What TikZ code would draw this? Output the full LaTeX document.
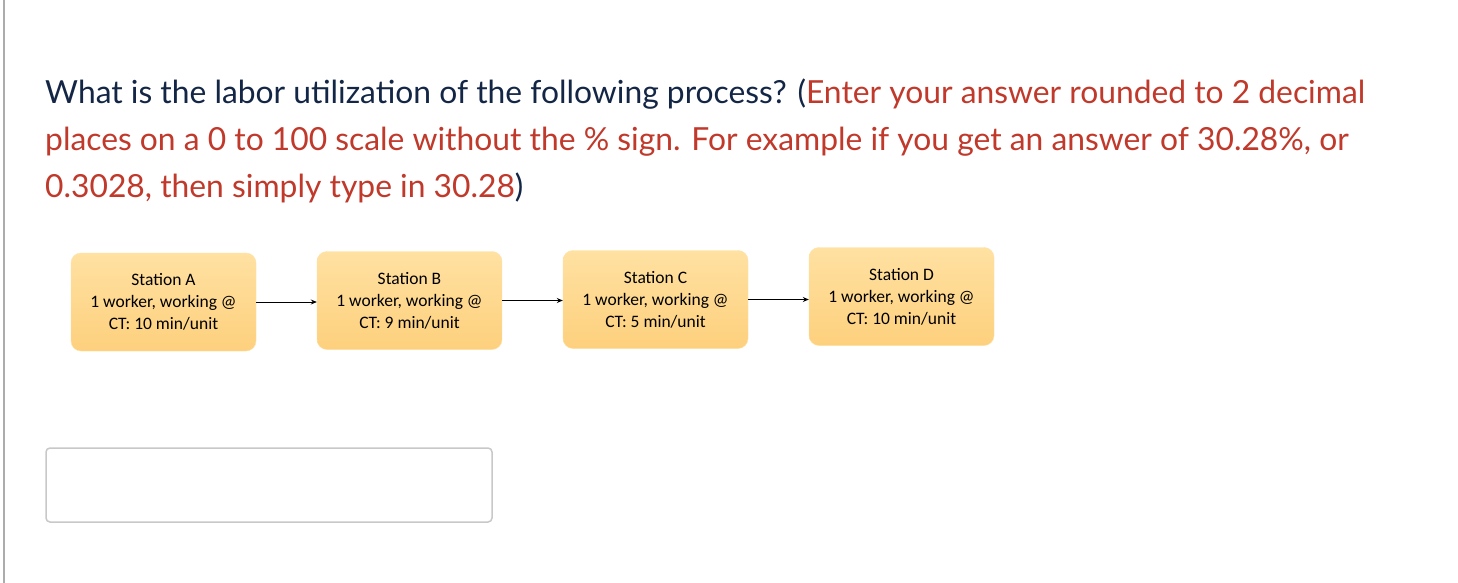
\documentclass[tikz,border=0pt]{standalone}
\usepackage{fontspec}
\setmainfont{Lato}
\newfontfamily\boxfont{Carlito}
\usetikzlibrary{positioning,arrows.meta}
\definecolor{qnavy}{RGB}{20,38,70}
\definecolor{qred}{RGB}{192,57,43}
\definecolor{boxtop}{RGB}{255,225,162}
\definecolor{boxbot}{RGB}{253,208,125}
\definecolor{fieldgray}{RGB}{200,200,200}
\tikzset{
	qline/.style={anchor=base west,inner sep=0pt,font=\fontsize{31.8}{38}\selectfont,text=qnavy},
	station/.style={rounded corners=10pt,top color=boxtop,bottom color=boxbot,draw=boxtop,
		minimum width=185pt,minimum height=98pt,inner sep=0pt,align=center,
		font=\boxfont\fontsize{17.5}{22}\selectfont},
	flow/.style={-{Stealth[length=6pt,width=5pt]},line width=0.9pt,black},
}
\begin{document}
\begin{tikzpicture}[x=1pt,y=-1pt]
	\useasboundingbox (0,0) rectangle (1458,583);
	\fill[white] (0,0) rectangle (1458,583);
	\draw[gray!65,line width=2pt] (4,0) -- (4,583);
	\node[qline] (lineA) at (45,103) {What is the labor utilization of the following process? (\textcolor{qred}{Enter your answer rounded to 2 decimal}};
	\node[qline,text=qred] (lineB) at (45,150) {places on a 0 to 100 scale without the \% sign. For example if you get an answer of 30.28\%, or};
	\node[qline,text=qred] (lineC) at (45,197) {0.3028, then simply type in 30.28\textcolor{qnavy}{)}};
	\node[station] (stationA) at (163.5,302) {Station A\\1 worker, working @\\CT: 10 min/unit};
	\node[station] (stationB) at (409.5,300.5) {Station B\\1 worker, working @\\CT: 9 min/unit};
	\node[station] (stationC) at (655.5,299.5) {Station C\\1 worker, working @\\CT: 5 min/unit};
	\node[station] (stationD) at (901.5,296.5) {Station D\\1 worker, working @\\CT: 10 min/unit};
	\draw[flow] (stationA.east) -- (stationA.east -| stationB.west);
	\draw[flow] (stationB.east) -- (stationB.east -| stationC.west);
	\draw[flow] (stationC.east) -- (stationC.east -| stationD.west);
	\node[draw=fieldgray,line width=1.5pt,rounded corners=4pt,minimum width=446pt,minimum height=74pt] (answer) at (269,485) {};
\end{tikzpicture}
\end{document}
